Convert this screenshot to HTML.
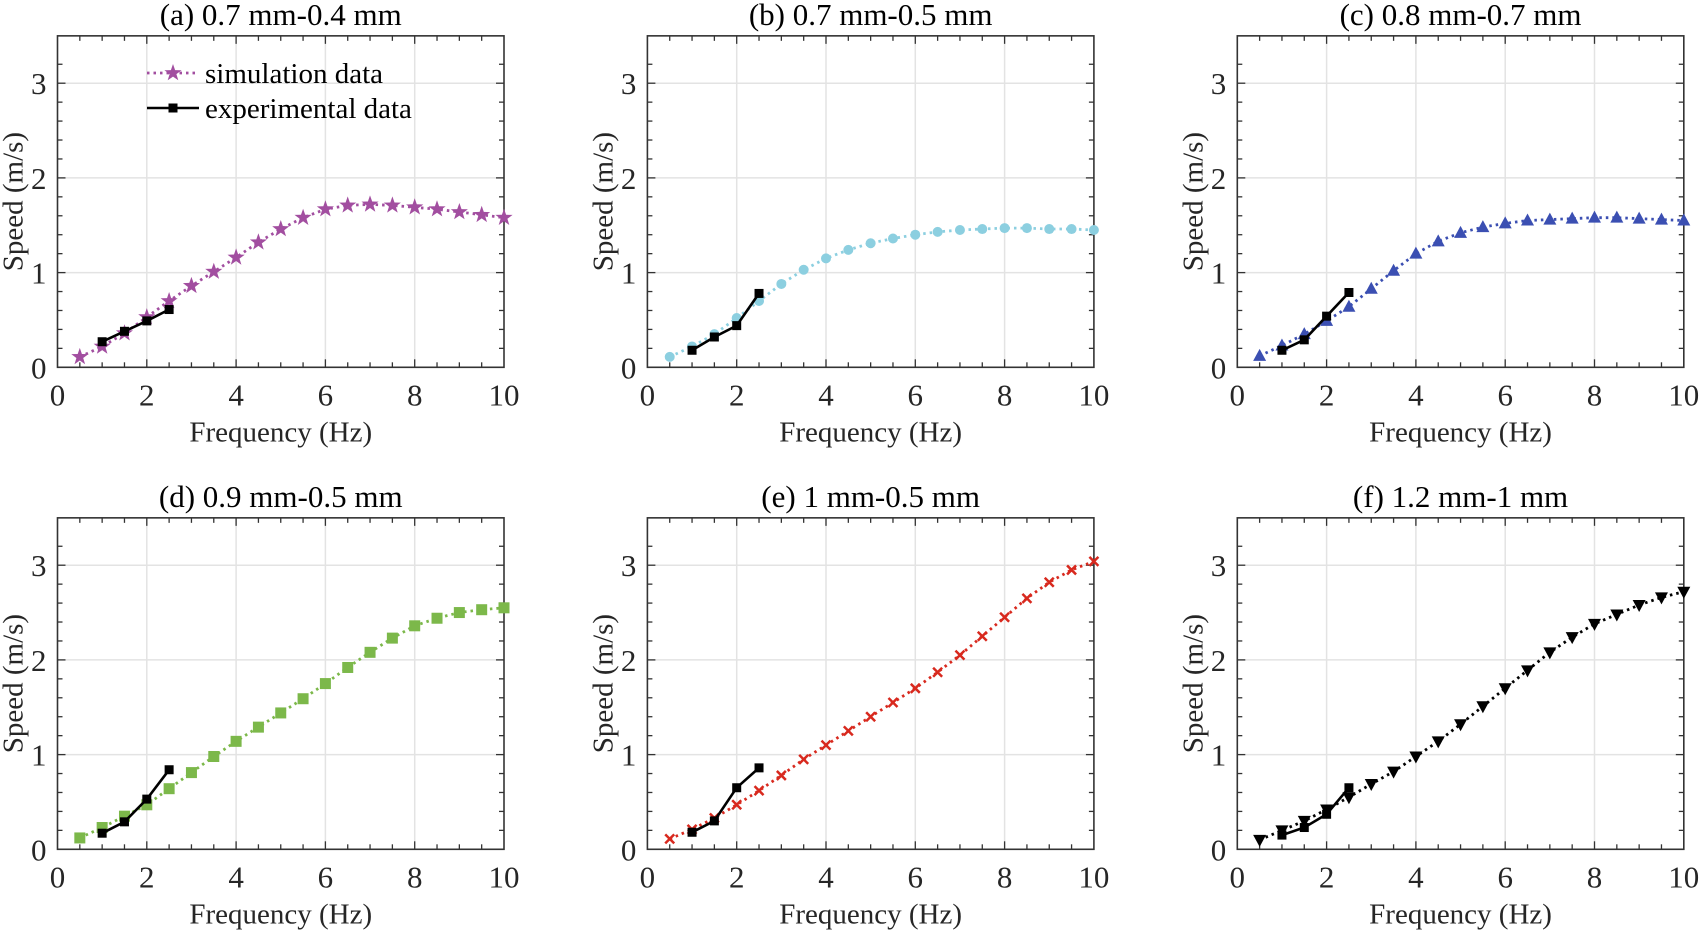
<!DOCTYPE html>
<html><head><meta charset="utf-8"><style>
html,body{margin:0;padding:0;background:#fff;font-family:"Liberation Serif","Times New Roman",serif;}
</style></head><body>
<svg id="s" width="1700" height="933" xmlns="http://www.w3.org/2000/svg" font-family="'Liberation Serif', 'Times New Roman', serif"></svg>
<script>
const S=document.getElementById('s');let h='';
const W=446.5,U=94.7,F=`font-family="Liberation Serif, serif" fill="#262626"`;
const panels=[
{x:57.5,y0:367.3,t:'(a) 0.7 mm-0.4 mm',c:'#a24ea0',m:'star',
 s:[0.11,0.22,0.36,0.53,0.70,0.86,1.01,1.16,1.32,1.46,1.58,1.67,1.71,1.72,1.71,1.69,1.67,1.64,1.61,1.58],e:[0.27,0.38,0.49,0.61]},
{x:647.4,y0:367.3,t:'(b) 0.7 mm-0.5 mm',c:'#8ccfe0',m:'circle',
 s:[0.11,0.22,0.35,0.52,0.70,0.88,1.03,1.15,1.24,1.31,1.36,1.40,1.43,1.45,1.46,1.47,1.47,1.46,1.46,1.45],e:[0.18,0.32,0.44,0.78]},
{x:1237.3,y0:367.3,t:'(c) 0.8 mm-0.7 mm',c:'#3b4fb2',m:'tri',
 s:[0.12,0.23,0.35,0.49,0.64,0.83,1.02,1.20,1.33,1.42,1.48,1.52,1.55,1.56,1.57,1.58,1.58,1.57,1.56,1.55],e:[0.18,0.29,0.54,0.79]},
{x:57.5,y0:849.3,t:'(d) 0.9 mm-0.5 mm',c:'#7cb84a',m:'sq',
 s:[0.12,0.23,0.35,0.47,0.64,0.81,0.98,1.14,1.29,1.44,1.59,1.75,1.92,2.08,2.23,2.36,2.44,2.50,2.53,2.55],e:[0.17,0.29,0.53,0.84]},
{x:647.4,y0:849.3,t:'(e) 1 mm-0.5 mm',c:'#d8291e',m:'x',
 s:[0.11,0.21,0.33,0.47,0.62,0.78,0.95,1.10,1.25,1.40,1.55,1.70,1.87,2.05,2.25,2.45,2.65,2.82,2.95,3.04],e:[0.18,0.30,0.65,0.86]},
{x:1237.3,y0:849.3,t:'(f) 1.2 mm-1 mm',c:'#000',m:'tridn',
 s:[0.10,0.20,0.30,0.42,0.55,0.69,0.82,0.98,1.14,1.32,1.51,1.70,1.89,2.08,2.24,2.38,2.48,2.58,2.66,2.72],e:[0.15,0.23,0.37,0.65]}];
function mk(m,x,y,c){
 if(m=='star'){let p=[];for(let i=0;i<10;i++){let r=i%2?3.6:9,a=-Math.PI/2+i*Math.PI/5;p.push((x+r*Math.cos(a)).toFixed(1)+','+(y+r*Math.sin(a)).toFixed(1));}return `<polygon points="${p.join(' ')}" fill="${c}"/>`;}
 if(m=='circle')return `<circle cx="${x}" cy="${y}" r="5" fill="${c}"/>`;
 if(m=='tri')return `<polygon points="${x},${y-7} ${x-6.5},${y+5} ${x+6.5},${y+5}" fill="${c}"/>`;
 if(m=='tridn')return `<polygon points="${x},${y+7} ${x-6.5},${y-5} ${x+6.5},${y-5}" fill="${c}"/>`;
 if(m=='sq')return `<rect x="${x-5.5}" y="${y-5.5}" width="11" height="11" fill="${c}"/>`;
 if(m=='x')return `<path d="M${x-4.5},${y-4.5}L${x+4.5},${y+4.5}M${x-4.5},${y+4.5}L${x+4.5},${y-4.5}" stroke="${c}" stroke-width="2.5"/>`;
}
panels.forEach((p,k)=>{
 const X=v=>p.x+v/10*W,Y=v=>p.y0-v*U,top=Y(3.5),R=p.x+W;
 for(let v=2;v<10;v+=2)h+=`<line x1="${X(v)}" y1="${top}" x2="${X(v)}" y2="${p.y0}" stroke="#e3e3e3" stroke-width="1.5"/>`;
 for(let v=1;v<=3;v++)h+=`<line x1="${p.x}" y1="${Y(v)}" x2="${R}" y2="${Y(v)}" stroke="#e3e3e3" stroke-width="1.5"/>`;
 for(let i=1;i<20;i++){let x=X(i*0.5),l=i%4==0?8:5;h+=`<line x1="${x}" y1="${p.y0}" x2="${x}" y2="${p.y0-l}" stroke="#333" stroke-width="1.3"/><line x1="${x}" y1="${top}" x2="${x}" y2="${top+l}" stroke="#333" stroke-width="1.3"/>`;}
 for(let i=1;i<17;i++){let y=Y(i*0.2),l=i%5==0?8:5;h+=`<line x1="${p.x}" y1="${y}" x2="${p.x+l}" y2="${y}" stroke="#333" stroke-width="1.3"/><line x1="${R}" y1="${y}" x2="${R-l}" y2="${y}" stroke="#333" stroke-width="1.3"/>`;}
 h+=`<rect x="${p.x}" y="${top}" width="${W}" height="${p.y0-top}" fill="none" stroke="#333" stroke-width="1.6"/>`;
 for(let v=0;v<=10;v+=2)h+=`<text ${F} x="${X(v)}" y="${p.y0+38}" font-size="31" text-anchor="middle">${v}</text>`;
 for(let v=0;v<=3;v++)h+=`<text ${F} x="${p.x-11}" y="${Y(v)+11}" font-size="31" text-anchor="end">${v}</text>`;
 h+=`<text ${F} x="${p.x+W/2}" y="${p.y0+74}" font-size="29" text-anchor="middle">Frequency (Hz)</text>`;
 h+=`<text ${F} transform="translate(${p.x-35},${(top+p.y0)/2}) rotate(-90)" font-size="29" text-anchor="middle">Speed (m/s)</text>`;
 h+=`<text font-family="Liberation Serif, serif" fill="#000" x="${p.x+W/2}" y="${top-11}" font-size="31" text-anchor="middle">${p.t}</text>`;
 let pts=p.s.map((v,i)=>X((i+1)*0.5).toFixed(1)+','+Y(v).toFixed(1));
 h+=`<polyline points="${pts.join(' ')}" fill="none" stroke="${p.c}" stroke-width="2.8" stroke-dasharray="2.5,4"/>`;
 p.s.forEach((v,i)=>h+=mk(p.m,X((i+1)*0.5),Y(v),p.c));
 let ep=p.e.map((v,i)=>X(1+i*0.5).toFixed(1)+','+Y(v).toFixed(1));
 h+=`<polyline points="${ep.join(' ')}" fill="none" stroke="#000" stroke-width="2.6"/>`;
 p.e.forEach((v,i)=>{let x=X(1+i*0.5),y=Y(v);h+=`<rect x="${x-4.5}" y="${y-4.5}" width="9" height="9" fill="#000"/>`;});
});
h+=`<line x1="147" y1="73" x2="199" y2="73" stroke="#a24ea0" stroke-width="2.8" stroke-dasharray="2.5,4"/>`+mk('star',173,73,'#a24ea0');
h+=`<text font-family="Liberation Serif, serif" x="205" y="83" font-size="29" fill="#000">simulation data</text>`;
h+=`<line x1="147" y1="108" x2="199" y2="108" stroke="#000" stroke-width="2.6"/><rect x="168.5" y="103.5" width="9" height="9" fill="#000"/>`;
h+=`<text font-family="Liberation Serif, serif" x="205" y="118" font-size="29" fill="#000">experimental data</text>`;
S.innerHTML=h;
</script>
</body></html>
